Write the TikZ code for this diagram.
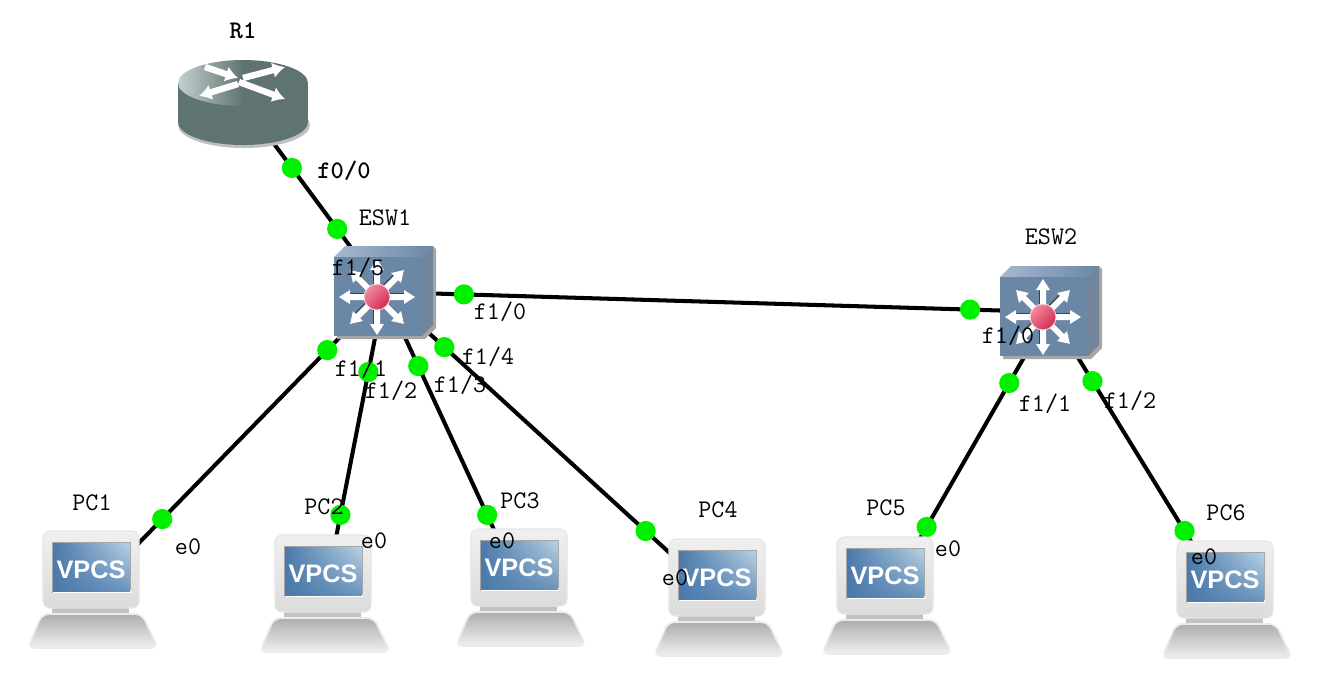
\documentclass[tikz,border=0pt]{standalone}
\usepackage{fontspec}
\newfontfamily\vpcsfont{Liberation Sans}
\usetikzlibrary{backgrounds}
\usetikzlibrary{arrows.meta}
\usetikzlibrary{shadings}

\definecolor{linkgreen}{HTML}{00F000}
\definecolor{routerbody}{HTML}{5F7472}
\definecolor{routerlight}{HTML}{C4D0CE}
\definecolor{switchfront}{HTML}{6A87A6}
\definecolor{switchtop}{HTML}{A6B8CF}
\definecolor{switchside}{HTML}{72859B}
\definecolor{ballred}{HTML}{D42A55}
\definecolor{ballpink}{HTML}{F28A9C}
\definecolor{screenblue}{HTML}{4A79AA}
\definecolor{screenlight}{HTML}{B9D2E4}

\tikzset{
  devicenode/.style={inner sep=0pt, minimum size=2pt},
  linkline/.style={line width=2.3pt, black},
  portdot/.style={circle, fill=linkgreen, inner sep=0pt, minimum size=11.5pt},
  portlabel/.style={inner sep=0pt, font=\ttfamily\fontsize{14.4pt}{16pt}\selectfont, text=black},
  routerlabel/.style={portlabel, font=\ttfamily\fontsize{14.4pt}{16pt}\selectfont\bfseries},
  routericon/.pic={
    \fill[black!25] (1,23) ellipse [x radius=66, y radius=23];
    \fill[routerbody] (-65,-19) rectangle (65,20);
    \fill[routerbody] (0,20) ellipse [x radius=65, y radius=23];
    \shade[left color=routerlight, right color=routerbody, middle color=routerbody]
      (0,-19) ellipse [x radius=65, y radius=23];
    % the four router arrows
    \foreach \xa / \ya / \xb / \yb in {
      -38 / -35 / -5 / -24,
      0 / -24 / 42 / -35,
      -5 / -18 / -44 / -6,
      -4 / -20 / 42 / -3
    }{
      \draw[white, line width=3.6pt, -{Latex[length=7pt, width=9pt]}] (\xa,\ya) -- (\xb,\yb);
    }
  },
  switchicon/.pic={
    \fill[black!35] (-47,47) -- (41,47) -- (52,36) -- (52,-43) -- (49,-46) -- (-47,-33) -- cycle;
    \fill[switchside] (38,-35) -- (49,-46) -- (49,33) -- (38,44) -- cycle;
    \shade[left color=switchtop, right color=switchfront] (-50,-35) -- (-39,-46) -- (49,-46) -- (38,-35) -- cycle;
    \fill[switchfront] (-50,-35) rectangle (38,44);
    \begin{scope}[shift={(-7,5)}]
      % eight arrows round the ball
      \foreach \ang in {0,45,...,315}{
        \fill[black!75, shift={(-0.8,-1.2)}, rotate=\ang] (10,-3) -- (30,-3) -- (30,3) -- (10,3) -- cycle;
      }
      \foreach \ang in {0,45,...,315}{
        \fill[white, rotate=\ang] (10,-3) -- (27,-3) -- (27,-7) -- (38,0) -- (27,7) -- (27,3) -- (10,3) -- cycle;
      }
      \shadedraw[left color=ballpink, right color=ballred, shading angle=45, draw=white!70!ballpink, line width=0.5pt] (0,0) circle (13);
    \end{scope}
  },
  vpcsicon/.pic={
    % base and neck
    \fill[black!24] (-41,16) rectangle (36,26);
    \shade[top color=black!32, bottom color=black!6, draw=black!8, line width=1pt, rounded corners=4pt]
      (-51,24) -- (49,24) -- (65,58) -- (-65,58) -- cycle;
    % monitor
    \shade[top color=black!6, bottom color=black!14, draw=black!10, line width=0.6pt, rounded corners=4pt]
      (-50,-59) rectangle (46,18);
    \fill[black!35] (-41,-48) rectangle (38,3);
    \fill[white] (-40,0) rectangle (38,3);
    \shade[lower left=screenblue, upper right=screenlight, lower right=screenblue!70!screenlight, upper left=screenblue]
      (-40,-47) rectangle (37,1);
    \node[inner sep=0pt, text=white, font=\vpcsfont\fontsize{14.4pt}{16pt}\selectfont\bfseries] (-text) at (-2,-20) {VPCS};
  }
}

\begin{document}
\begin{tikzpicture}[x=0.02cm, y=-0.02cm]
  \useasboundingbox (0,0) rectangle (1336,698);

  % devices
  \node[devicenode] (R1) at (243,102) {};
  \pic (iconR1) at (R1.center) {routericon};

  \foreach \name/\x/\y in {
    ESW1/384/292,
    ESW2/1050/312
  }{
    \node[devicenode] (\name) at (\x,\y) {};
    \pic (icon\name) at (\name.center) {switchicon};
  }

  \foreach \name/\x/\y in {
    PC1/93/590,
    PC2/325/594,
    PC3/521/588,
    PC4/719/598,
    PC5/887/596,
    PC6/1227/600
  }{
    \node[devicenode] (\name) at (\x,\y) {};
    \pic (icon\name) at (\name.center) {vpcsicon};
  }

  % links, kept behind the icons
  \begin{scope}[on background layer]
    \foreach \from/\to/\posa/\posb in {
      R1/ESW1/0.347/0.668,
      ESW1/ESW2/0.120/0.880,
      ESW1/PC1/0.195/0.762,
      ESW1/PC2/0.265/0.738,
      ESW1/PC3/0.250/0.753,
      ESW1/PC4/0.180/0.781,
      ESW2/PC5/0.250/0.757,
      ESW2/PC6/0.240/0.760
    }{
      \draw[linkline] (\from.center) -- (\to.center)
        node[portdot, pos=\posa] (dot\from\to-a) {}
        node[portdot, pos=\posb] (dot\from\to-b) {};
    }
  \end{scope}

  % device names and port labels
  \node[routerlabel] (labR1) at (243,31) {R1};
  \node[routerlabel] (labf00) at (344,171) {f0/0};

  \foreach \x / \y / \t [count=\i] in {
    385 / 218 / ESW1,
    358 / 268 / {f1/5},
    500 / 312 / {f1/0},
    488 / 357 / {f1/4},
    460 / 385 / {f1/3},
    361 / 369 / {f1/1},
    391 / 391 / {f1/2},
    1051 / 237 / ESW2,
    1008 / 336 / {f1/0},
    1045 / 404 / {f1/1},
    1130 / 401 / {f1/2},
    92 / 503 / PC1,
    188 / 547 / e0,
    324 / 507 / PC2,
    374 / 541 / e0,
    520 / 501 / PC3,
    502 / 541 / e0,
    718 / 510 / PC4,
    675 / 578 / e0,
    886 / 508 / PC5,
    948 / 549 / e0,
    1226 / 513 / PC6,
    1204 / 557 / e0
  }{
    \node[portlabel] (lab\i) at (\x,\y) {\t};
  }
\end{tikzpicture}
\end{document}
